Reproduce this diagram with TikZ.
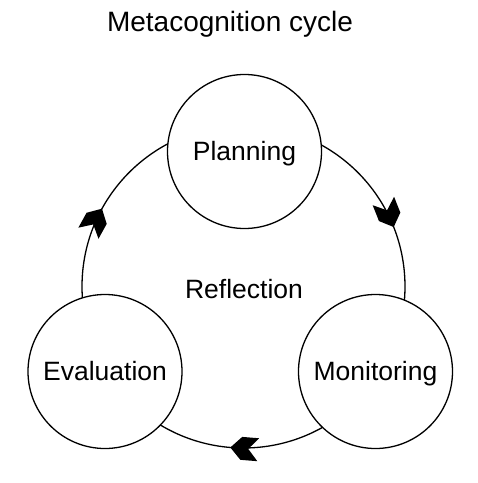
\documentclass[tikz,border=0pt]{standalone}
\usepackage{fontspec}
\setmainfont{Liberation Sans}
\usepackage{tikz}
\usetikzlibrary{decorations.markings}
\tikzset{stage/.style={draw,shape=circle,fill=white,minimum size=154pt,inner sep=0pt,
  text height=18pt,text depth=0pt,font=\fontsize{26.5}{30}\selectfont}}
\tikzset{plaintext/.style={inner sep=0pt,text height=18pt,text depth=0pt,font=\fontsize{26.5}{30}\selectfont}}
% chevron head, tip at the mark, pointing along the path
\newcommand{\flowtip}{\fill (0pt,0pt) -- (-11pt,11.5pt) -- (-28pt,11.5pt) -- (-18pt,0pt)
  -- (-28pt,-11.5pt) -- (-11pt,-11.5pt) -- cycle;}

\begin{document}
\begin{tikzpicture}[x=1pt, y=1pt, line width=1.3pt]

\useasboundingbox (0,0) rectangle (478,-483);

\coordinate (c) at (243.5,-286.5);

% the reflection ring, clockwise from the top
\draw [decoration={markings,
    mark=at position 0.19 with {\flowtip},
    mark=at position 0.513 with {\flowtip},
    mark=at position 0.83 with {\flowtip}},
  postaction={decorate}]
  (c) ++(90:161.5) arc [start angle=90, end angle=-270, radius=161.5];

\node [stage] (planning) at (244.5,-151.5) {Planning};
\node [stage] (monitoring) at (375.5,-371.5) {Monitoring};
\node [stage] (evaluation) at (105,-371.5) {Evaluation};

\node [plaintext] (reflection) at (244,-289) {Reflection};
\node [plaintext, font=\fontsize{28}{30}\selectfont] (title) at (230,-22) {Metacognition cycle};

\end{tikzpicture}
\end{document}
